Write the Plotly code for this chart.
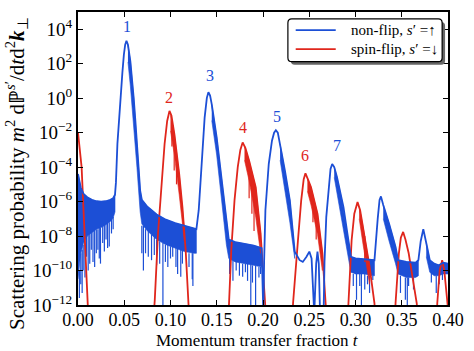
import plotly.graph_objects as go

BLUE = "#1c4fd6"
RED = "#e0261c"
FONT = "Liberation Serif"

# ---- blue (non-flip) outline: t and log10(probability) ----
blue_t = [0.000, 0.003, 0.006, 0.010, 0.015, 0.020, 0.025, 0.030, 0.035, 0.038, 0.0400, 0.0410, 0.0426, 0.0445,
          0.0461, 0.0480, 0.0496, 0.0510, 0.0524, 0.0540, 0.0566, 0.0585, 0.0602, 0.0620, 0.0637, 0.0655, 0.0672,
          0.0690, 0.0750, 0.0850, 0.0950, 0.1050, 0.1150, 0.1250, 0.1280, 0.1305, 0.1340, 0.1369, 0.1393, 0.1410,
          0.1428, 0.1446, 0.1499, 0.1550, 0.1604, 0.1630, 0.1700, 0.1800, 0.1900, 0.1985, 0.1998, 0.2004, 0.2012,
          0.2026, 0.2062, 0.2097, 0.2120, 0.2139, 0.2160, 0.2185, 0.2237, 0.2290, 0.2343, 0.2396, 0.2430, 0.2470,
          0.2501, 0.2525, 0.2554, 0.2575, 0.2589, 0.2603, 0.2617, 0.2655, 0.2665, 0.2684, 0.2712, 0.2730, 0.2748,
          0.2770, 0.2800, 0.2853, 0.2870, 0.2923, 0.2950, 0.3000, 0.3100, 0.3180, 0.3205, 0.3240, 0.3260, 0.3275,
          0.3300, 0.3363, 0.3433, 0.3460, 0.3550, 0.3650, 0.3680, 0.3705, 0.3733, 0.3765, 0.3803, 0.3850, 0.3900,
          0.3950, 0.4000]
blue_L = [-4.4, -5.2, -5.55, -5.75, -5.9, -5.98, -6.0, -5.98, -5.9, -5.8, -5.6, -4.9, -2.65, -1.0,
          0.22, 1.5, 2.53, 3.1, 3.33, 3.1, 2.14, 1.1, 0.02, -1.3, -2.66, -4.0, -5.36,
          -5.9, -6.3, -6.75, -7.05, -7.25, -7.4, -7.55, -7.6, -6.5, -3.24, -1.13, 0.02, 0.35,
          0.15, -0.36, -2.28, -4.59, -7.28, -8.2, -8.35, -8.45, -8.55, -8.7, -12.5, -12.5, -9.5,
          -6.5, -3.82, -2.47, -2.0, -1.86, -2.0, -2.66, -4.2, -5.93, -8.9, -9.4, -9.5, -9.2,
          -8.9, -9.3, -12.5, -9.6, -8.9, -9.6, -12.5, -12.5, -9.5, -6.9, -4.97, -4.1, -3.82,
          -4.0, -4.59, -5.93, -6.32, -8.24, -9.2, -9.3, -9.35, -9.4, -9.4, -7.0, -5.9, -5.7,
          -6.2, -7.28, -8.63, -9.4, -9.5, -9.55, -9.4, -8.3, -7.6, -8.4, -9.4, -9.6, -9.7,
          -9.55, -9.6]

# ---- blue noise bands (top / bottom of the dense oscillation) ----
bb1_t = [0.000, 0.003, 0.006, 0.010, 0.015, 0.020, 0.025, 0.030, 0.035, 0.038, 0.040]
bb1_top = [-4.4, -5.2, -5.55, -5.75, -5.9, -5.98, -6.0, -5.98, -5.9, -5.8, -5.6]
bb1_bot = [-10.5, -9.0, -8.4, -8.0, -7.8, -7.6, -7.5, -7.35, -7.15, -6.95, -6.6]
bb2_t = [0.0540, 0.0566, 0.0602, 0.0637, 0.0672, 0.0690, 0.0750, 0.0850, 0.0950, 0.1050, 0.1150, 0.1250, 0.1280]
bb2_top = [3.1, 2.14, 0.02, -2.66, -5.36, -5.9, -6.3, -6.75, -7.05, -7.25, -7.4, -7.55, -7.6]
bb2_bot = [2.1, 0.7, -1.5, -4.0, -6.6, -7.3, -7.7, -8.2, -8.5, -8.7, -8.9, -9.0, -9.0]
bb3_t = [0.1446, 0.1499, 0.1550, 0.1604, 0.1630, 0.1700, 0.1800, 0.1900, 0.1985]
bb3_top = [-0.36, -2.28, -4.59, -7.28, -8.2, -8.35, -8.45, -8.55, -8.7]
bb3_bot = [-1.3, -3.3, -5.8, -8.5, -9.3, -9.5, -9.6, -9.7, -9.8]
bb4_t = [0.2185, 0.2237, 0.2290, 0.2343]
bb4_top = [-2.66, -4.2, -5.93, -8.9]
bb4_bot = [-3.6, -5.3, -7.2, -9.3]
bb5_t = [0.2770, 0.2800, 0.2853, 0.2923, 0.2950, 0.3000, 0.3100, 0.3180, 0.3205]
bb5_top = [-4.0, -4.59, -5.93, -8.24, -9.2, -9.3, -9.35, -9.4, -9.4]
bb5_bot = [-4.6, -5.5, -7.0, -9.3, -10.1, -10.2, -10.2, -10.3, -10.3]
bb6_t = [0.3300, 0.3363, 0.3433, 0.3460, 0.3550, 0.3650, 0.3680]
bb6_top = [-6.2, -7.28, -8.63, -9.4, -9.5, -9.55, -9.4]
bb6_bot = [-7.0, -8.3, -9.6, -10.2, -10.4, -10.4, -10.3]
bb7_t = [0.3765, 0.3803, 0.3850, 0.3900, 0.3950, 0.4000]
bb7_top = [-8.4, -9.4, -9.6, -9.7, -9.55, -9.6]
bb7_bot = [-9.2, -10.1, -10.3, -10.3, -10.2, -10.2]

# ---- blue downward spikes: position, start, end (log10) ----
bspike_t = [0.0015, 0.0030, 0.0045, 0.0056, 0.0075, 0.0092, 0.0110, 0.0127, 0.0144, 0.0162, 0.0180, 0.0198,
            0.0215, 0.0230, 0.0243, 0.0267, 0.0285, 0.0303, 0.0320, 0.0338, 0.0362, 0.0380,
            0.0690, 0.0707, 0.0730, 0.0760, 0.0795, 0.0825, 0.0850, 0.0883, 0.0918, 0.0945, 0.0971, 0.1000,
            0.1024, 0.1059, 0.1077, 0.1111, 0.1129, 0.1200, 0.1235, 0.1242,
            0.1639, 0.1675, 0.1710, 0.1745, 0.1780, 0.1810, 0.1833, 0.1868, 0.1886, 0.1920, 0.1956, 0.1974,
            0.2976, 0.3011, 0.3046, 0.3064, 0.3100, 0.3130, 0.3152, 0.3187,
            0.3486, 0.3539, 0.3560, 0.3574, 0.3627, 0.3660,
            0.3820, 0.3873, 0.3905, 0.3940]
bspike_from = [-10.0, -9.0, -8.8, -8.5, -8.2, -8.0, -7.9, -7.8, -7.7, -7.7, -7.6, -7.6,
               -7.6, -7.5, -7.5, -7.4, -7.3, -7.3, -7.2, -7.2, -7.0, -6.9,
               -7.4, -7.4, -7.6, -7.7, -7.9, -8.0, -8.2, -8.3, -8.4, -8.5, -8.5, -8.6,
               -8.6, -8.7, -8.7, -8.8, -8.8, -9.0, -9.0, -9.0,
               -9.3, -9.4, -9.5, -9.5, -9.6, -9.6, -9.6, -9.6, -9.7, -9.7, -9.8, -9.8,
               -10.2, -10.2, -10.2, -10.2, -10.2, -10.3, -10.3, -10.3,
               -10.3, -10.4, -10.4, -10.4, -10.4, -10.3,
               -10.1, -10.3, -10.3, -10.2]
bspike_to = [-11.6, -10.8, -11.3, -10.0, -10.4, -9.2, -10.0, -9.6, -8.8, -9.5, -9.8, -9.0,
             -8.8, -9.3, -9.6, -8.4, -8.9, -8.2, -8.7, -8.6, -7.85, -7.6,
             -9.0, -10.0, -9.0, -9.2, -9.4, -9.1, -9.7, -9.6, -12.5, -9.5, -9.8, -9.3,
             -9.2, -9.8, -10.2, -10.36, -9.6, -9.8, -10.5, -10.9,
             -10.2, -10.6, -10.0, -10.3, -10.36, -10.1, -10.6, -12.5, -10.7, -12.5, -10.4, -10.2,
             -10.9, -11.7, -10.9, -12.5, -11.1, -10.8, -11.3, -10.55,
             -11.3, -11.7, -12.5, -10.9, -11.1, -10.36,
             -10.7, -11.3, -10.8, -10.55]

# ---- red (spin-flip) outline ----
red_t = [0.000, 0.002, 0.0039, 0.0063, 0.0084, 0.0102, 0.0110, None,
         0.0820, 0.0830, 0.0865, 0.0900, 0.0936, 0.0964, 0.0989, 0.1010, 0.1042, 0.1094, 0.1129, 0.1164, 0.1193, 0.1200, None,
         0.1625, 0.1632, 0.1657, 0.1692, 0.1727, 0.1755, 0.1780, 0.1810, 0.1850, 0.1921, 0.1974, 0.2008, 0.2030, None,
         0.2320, 0.2325, 0.2378, 0.2413, 0.2440, 0.2459, 0.2485, 0.2519, 0.2589, 0.2642, 0.2677, 0.2685, None,
         0.2918, 0.2923, 0.2958, 0.2987, 0.3022, 0.3050, 0.3082, 0.3152, 0.3205, 0.3212, None,
         0.3428, 0.3433, 0.3469, 0.3490, 0.3515, 0.3540, 0.3575, 0.3620, 0.3662, 0.3670, None,
         0.3880, 0.3884, 0.3910, 0.3937, 0.3960, 0.3980, 0.4000]
red_L = [-2.0, -2.9, -4.0, -6.9, -9.6, -11.9, -12.5, None,
         -12.5, -11.7, -7.85, -5.17, -2.66, -1.32, -0.74, -1.0, -2.09, -4.4, -6.32, -8.82, -11.7, -12.5, None,
         -12.5, -12.0, -8.82, -5.93, -4.0, -3.0, -2.57, -2.9, -3.63, -5.17, -7.85, -10.74, -12.5, None,
         -12.5, -11.9, -8.24, -5.93, -4.7, -4.36, -4.7, -5.17, -6.7, -9.0, -11.9, -12.5, None,
         -12.5, -11.9, -8.24, -6.7, -6.03, -6.5, -7.47, -9.78, -11.9, -12.5, None,
         -12.5, -11.9, -9.0, -8.1, -7.76, -8.2, -9.0, -10.4, -11.9, -12.5, None,
         -12.5, -11.9, -10.0, -9.4, -10.0, -11.3, -12.2]

# ---- red noise bands on the falling flanks ----
rb2_t = [0.1000, 0.1042, 0.1094, 0.1129, 0.1150]
rb2_top = [-0.9, -2.09, -4.4, -6.32, -7.7]
rb2_bot = [-1.9, -3.3, -5.6, -7.4, -8.3]
rb4_t = [0.1800, 0.1850, 0.1921, 0.1974]
rb4_top = [-2.75, -3.63, -5.17, -7.85]
rb4_bot = [-3.6, -4.8, -6.9, -9.0]
rb6_t = [0.2480, 0.2519, 0.2589, 0.2642]
rb6_top = [-4.65, -5.17, -6.7, -9.0]
rb6_bot = [-5.4, -6.2, -7.9, -10.0]
rb8_t = [0.3040, 0.3082, 0.3152]
rb8_top = [-6.3, -7.47, -9.78]
rb8_bot = [-7.0, -8.5, -10.8]

rspike_t = [0.1015, 0.1040, 0.1065, 0.1850, 0.1880, 0.1903, 0.2540, 0.2575, 0.3100]
rspike_from = [-1.7, -2.9, -3.8, -4.2, -4.8, -5.8, -6.0, -7.0, -8.0]
rspike_to = [-2.8, -4.2, -5.0, -5.8, -6.7, -7.7, -7.2, -8.2, -9.5]

# ---- peak labels ----
peak_label = ["1", "2", "3", "4", "5", "6", "7"]
peak_t = [0.0527, 0.0989, 0.1422, 0.1780, 0.2150, 0.2459, 0.2800]
peak_L = [4.16, 0.02, 1.31, -1.71, -1.09, -3.34, -2.76]
peak_is_flip = [False, True, False, True, False, True, False]

series_names = ["non-flip, <i>s</i>′ =↑", "spin-flip, <i>s</i>′ =↓"]

yt_exp = [4, 2, 0, -2, -4, -6, -8, -10, -12]
xt_vals = [0.00, 0.05, 0.10, 0.15, 0.20, 0.25, 0.30, 0.35, 0.40]

assert len(blue_t) == len(blue_L) and len(red_t) == len(red_L)
assert len(bspike_t) == len(bspike_from) == len(bspike_to)

# plot-area geometry in pixels (used only for the hand-drawn legend box)
W, H = 474, 351
ML, MR, MT, MB = 78, 17, 10, 46
PW, PH = W - ML - MR, H - MT - MB


def px2paper(x, y):
    return (x - ML) / PW, (H - MB - y) / PH


def p(v):
    return None if v is None else 10.0 ** v


def band_poly(bands):
    xs, ys = [], []
    for t, top, bot in bands:
        xs += list(t) + list(t[::-1]) + [None]
        ys += [p(v) for v in top] + [p(v) for v in bot[::-1]] + [None]
    return xs, ys


def spikes(ts, fr, to):
    xs, ys = [], []
    for t, a, b in zip(ts, fr, to):
        xs += [t, t, None]
        ys += [p(a), p(b), None]
    return xs, ys


def rounded_rect(x0, y0, x1, y1, r):
    def P(x, y):
        u, v = px2paper(x, y)
        return f"{u:.5f},{v:.5f}"
    return (f"M{P(x0 + r, y0)} L{P(x1 - r, y0)} Q{P(x1, y0)} {P(x1, y0 + r)} "
            f"L{P(x1, y1 - r)} Q{P(x1, y1)} {P(x1 - r, y1)} L{P(x0 + r, y1)} "
            f"Q{P(x0, y1)} {P(x0, y1 - r)} L{P(x0, y0 + r)} Q{P(x0, y0)} {P(x0 + r, y0)} Z")


fig = go.Figure()

bx, by = band_poly([(bb1_t, bb1_top, bb1_bot), (bb2_t, bb2_top, bb2_bot), (bb3_t, bb3_top, bb3_bot),
                    (bb4_t, bb4_top, bb4_bot), (bb5_t, bb5_top, bb5_bot), (bb6_t, bb6_top, bb6_bot),
                    (bb7_t, bb7_top, bb7_bot)])
fig.add_trace(go.Scatter(x=bx, y=by, mode="lines", fill="toself", fillcolor=BLUE,
                         line=dict(color=BLUE, width=0.6), showlegend=False, hoverinfo="skip"))
sx, sy = spikes(bspike_t, bspike_from, bspike_to)
fig.add_trace(go.Scatter(x=sx, y=sy, mode="lines", line=dict(color=BLUE, width=1.2),
                         showlegend=False, hoverinfo="skip"))

rx, ry = band_poly([(rb2_t, rb2_top, rb2_bot), (rb4_t, rb4_top, rb4_bot), (rb6_t, rb6_top, rb6_bot),
                    (rb8_t, rb8_top, rb8_bot)])
fig.add_trace(go.Scatter(x=rx, y=ry, mode="lines", fill="toself", fillcolor=RED,
                         line=dict(color=RED, width=0.6), showlegend=False, hoverinfo="skip"))
sx, sy = spikes(rspike_t, rspike_from, rspike_to)
fig.add_trace(go.Scatter(x=sx, y=sy, mode="lines", line=dict(color=RED, width=1.2),
                         showlegend=False, hoverinfo="skip"))

fig.add_trace(go.Scatter(x=red_t, y=[p(v) for v in red_L], mode="lines", connectgaps=False,
                         line=dict(color=RED, width=1.8), name=series_names[1], showlegend=False))
fig.add_trace(go.Scatter(x=blue_t, y=[p(v) for v in blue_L], mode="lines",
                         line=dict(color=BLUE, width=1.8), name=series_names[0], showlegend=False))

for lab, t, L, flip in zip(peak_label, peak_t, peak_L, peak_is_flip):
    fig.add_annotation(x=t, y=L, text=lab, showarrow=False, xref="x", yref="y",
                       font=dict(family=FONT, size=16, color=RED if flip else BLUE))

# ---- legend box drawn as shapes + text (rounded frame with drop shadow) ----
fig.add_shape(type="path", xref="paper", yref="paper", path=rounded_rect(296, 20, 454, 63, 4),
              fillcolor="#666666", line=dict(width=0), layer="above")
fig.add_shape(type="path", xref="paper", yref="paper", path=rounded_rect(293, 17, 451, 60, 4),
              fillcolor="white", line=dict(color="black", width=1.2), layer="above")
for i, (name, col) in enumerate(zip(series_names, [BLUE, RED])):
    yy = 28.3 + 19 * i
    x0, y0 = px2paper(301, yy)
    x1, _ = px2paper(342, yy)
    fig.add_shape(type="line", xref="paper", yref="paper", x0=x0, x1=x1, y0=y0, y1=y0,
                  line=dict(color=col, width=1.8), layer="above")
    tx, _ = px2paper(356, yy)
    fig.add_annotation(text=name, xref="paper", yref="paper", x=tx, y=y0, xanchor="left",
                       yanchor="middle", showarrow=False,
                       font=dict(family=FONT, size=15, color="black"))

fig.add_annotation(text="Scattering probability <i>m</i><sup>2</sup> dℙ<sup><i>s</i>′</sup>/d<i>t</i>d<sup>2</sup><b><i>k</i></b><sub>⊥</sub>",
                   xref="paper", yref="paper", x=-0.168, y=0.45, xanchor="center", yanchor="middle",
                   textangle=-90, showarrow=False, font=dict(family=FONT, size=21, color="black"))
fig.add_annotation(text="Momentum transfer fraction <i>t</i>", xref="paper", yref="paper",
                   x=0.485, y=-0.1565, xanchor="center", yanchor="bottom", showarrow=False,
                   borderpad=0, font=dict(family=FONT, size=17, color="black"))

fig.update_layout(
    width=W, height=H,
    margin=dict(l=ML, r=MR, t=MT, b=MB),
    paper_bgcolor="white", plot_bgcolor="white",
    font=dict(family=FONT, size=18, color="black"),
    showlegend=False,
)
fig.update_xaxes(range=[0, 0.40], tickvals=xt_vals, ticktext=[f"{v:.2f}" for v in xt_vals],
                 ticks="inside", ticklen=5, tickcolor="black", showline=True, linecolor="black",
                 linewidth=2, mirror="ticks", showgrid=False, zeroline=False,
                 ticklabelstandoff=-3, tickfont=dict(family=FONT, size=18))
fig.update_yaxes(type="log", range=[-12, 5], tickvals=[10.0 ** e for e in yt_exp],
                 ticktext=[f"10<sup>{str(e).replace('-', '−')}</sup>" for e in yt_exp],
                 ticks="inside", ticklen=5, tickcolor="black", showline=True, linecolor="black",
                 linewidth=2, mirror="ticks", showgrid=False, zeroline=False,
                 tickfont=dict(family=FONT, size=19))

fig.write_html("out.html")
